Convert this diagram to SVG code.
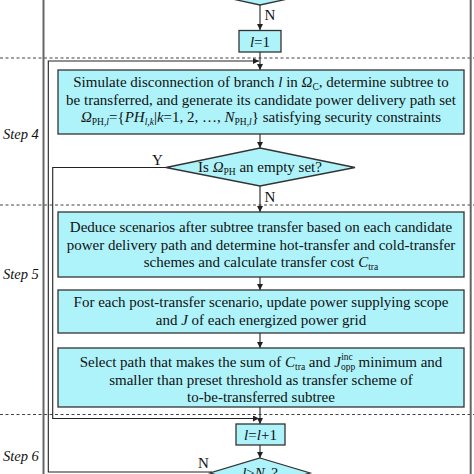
<svg xmlns="http://www.w3.org/2000/svg" width="474" height="474" viewBox="0 0 474 474">
<defs>
<marker id="ah" markerWidth="6" markerHeight="6" refX="6" refY="3" orient="auto" markerUnits="userSpaceOnUse">
<path d="M0,0 L6,3 L0,6 z" fill="#222"/>
</marker>
<style>
.box{fill:#aef3fa;stroke:#333;stroke-width:1.3}
.t{font-family:"Liberation Serif","Times New Roman",serif;font-size:15px;fill:#111}
.c{text-anchor:middle}
.i{font-style:italic}
.s{font-size:9.5px}
.step{font-family:"Liberation Serif","Times New Roman",serif;font-size:14.5px;font-style:italic;fill:#111}
.con{fill:none;stroke:#222;stroke-width:1.1}
.dash{stroke:#444;stroke-width:1;stroke-dasharray:3,2.5}
.frame{stroke:#666;stroke-width:2}
</style>
</defs>
<rect width="474" height="474" fill="#fff"/>
<g id="frame">
<line class="dash" x1="0" y1="58" x2="474" y2="58"/>
<line class="dash" x1="0" y1="205" x2="474" y2="205"/>
<line class="dash" x1="0" y1="414.5" x2="474" y2="414.5"/>
<line class="frame" x1="43.5" y1="0" x2="43.5" y2="474"/>
<line class="frame" x1="470.7" y1="0" x2="470.7" y2="474"/>
</g>
<g id="steps">
<text class="step" x="3" y="139">Step 4</text>
<text class="step" x="3" y="279">Step 5</text>
<text class="step" x="3" y="461">Step 6</text>
</g>
<g id="connectors">
<line class="con" x1="260" y1="5" x2="260" y2="30" marker-end="url(#ah)"/>
<line class="con" x1="260" y1="52" x2="260" y2="70" marker-end="url(#ah)"/>
<polyline class="con" points="212,472 48.3,472 48.3,61 259,61" marker-end="url(#ah)"/>
<line class="con" x1="260" y1="134" x2="260" y2="148" marker-end="url(#ah)"/>
<polyline class="con" points="167,167.5 52.7,167.5 52.7,418.5 259,418.5" marker-end="url(#ah)"/>
<line class="con" x1="260" y1="186" x2="260" y2="212" marker-end="url(#ah)"/>
<line class="con" x1="260" y1="277" x2="260" y2="290" marker-end="url(#ah)"/>
<line class="con" x1="260" y1="333" x2="260" y2="348" marker-end="url(#ah)"/>
<line class="con" x1="260" y1="407" x2="260" y2="424" marker-end="url(#ah)"/>
<line class="con" x1="260" y1="445" x2="260" y2="458" marker-end="url(#ah)"/>
<text class="t" x="264.5" y="20">N</text>
<text class="t" x="264.5" y="202">N</text>
<text class="t" x="152" y="165">Y</text>
<text class="t" x="198" y="468">N</text>
</g>
<g id="d0">
<polygon class="box" points="260,-35 352,-15 260,5 168,-15"/>
</g>
<g id="n1">
<rect class="box" x="239" y="30.5" width="42" height="21.5"/>
<text class="t c" x="260" y="46.5"><tspan class="i">l</tspan>=1</text>
</g>
<g id="n2">
<rect class="box" x="58" y="70" width="406" height="64"/>
<text class="t c" x="261" y="87">Simulate disconnection of branch <tspan class="i">l</tspan> in <tspan class="i">Ω</tspan><tspan class="s" dy="3">C</tspan><tspan dy="-3">, determine subtree to</tspan></text>
<text class="t c" x="261" y="104.5">be transferred, and generate its candidate power delivery path set</text>
<text class="t c" x="261" y="122"><tspan class="i">Ω</tspan><tspan class="s" dy="3">PH,<tspan class="i">l</tspan></tspan><tspan dy="-3">={</tspan><tspan class="i">PH</tspan><tspan class="s i" dy="3">l,k</tspan><tspan dy="-3">|</tspan><tspan class="i">k</tspan>=1, 2, …, <tspan class="i">N</tspan><tspan class="s" dy="3">PH,<tspan class="i">l</tspan></tspan><tspan dy="-3">} satisfying security constraints</tspan></text>
</g>
<g id="d1">
<polygon class="box" points="260,148 355,167.5 260,186 166,167.5"/>
<text class="t c" x="260" y="172">Is <tspan class="i">Ω</tspan><tspan class="s" dy="3">PH</tspan><tspan dy="-3"> an empty set?</tspan></text>
</g>
<g id="n3">
<rect class="box" x="58" y="212" width="406" height="65"/>
<text class="t c" x="261" y="232">Deduce scenarios after subtree transfer based on each candidate</text>
<text class="t c" x="261" y="249.5">power delivery path and determine hot-transfer and cold-transfer</text>
<text class="t c" x="261" y="267">schemes and calculate transfer cost <tspan class="i">C</tspan><tspan class="s" dy="3">tra</tspan></text>
</g>
<g id="n4">
<rect class="box" x="58" y="290" width="406" height="43"/>
<text class="t c" x="261" y="307">For each post-transfer scenario, update power supplying scope</text>
<text class="t c" x="261" y="325">and <tspan class="i">J</tspan> of each energized power grid</text>
</g>
<g id="n5">
<rect class="box" x="58" y="348" width="406" height="59"/>
<text class="t c" x="261" y="367">Select path that makes the sum of <tspan class="i">C</tspan><tspan class="s" dy="3">tra</tspan><tspan dy="-3"> and </tspan><tspan class="i">J</tspan><tspan class="s" dy="3">opp</tspan><tspan class="s" dx="-14" dy="-10">inc</tspan><tspan dx="2" dy="7"> minimum and</tspan></text>
<text class="t c" x="261" y="384.5">smaller than preset threshold as transfer scheme of</text>
<text class="t c" x="261" y="402">to-be-transferred subtree</text>
</g>
<g id="n6">
<rect class="box" x="236" y="424" width="49" height="21"/>
<text class="t c" x="260.5" y="440"><tspan class="i">l</tspan>=<tspan class="i">l</tspan>+1</text>
</g>
<g id="d2">
<polygon class="box" points="260,458 310,473 260,488 210,473"/>
<text class="t c" x="260" y="478"><tspan class="i">l</tspan>&gt;<tspan class="i">N</tspan><tspan class="s i" dy="3">l</tspan><tspan dy="-3"> ?</tspan></text>
</g>
</svg>
